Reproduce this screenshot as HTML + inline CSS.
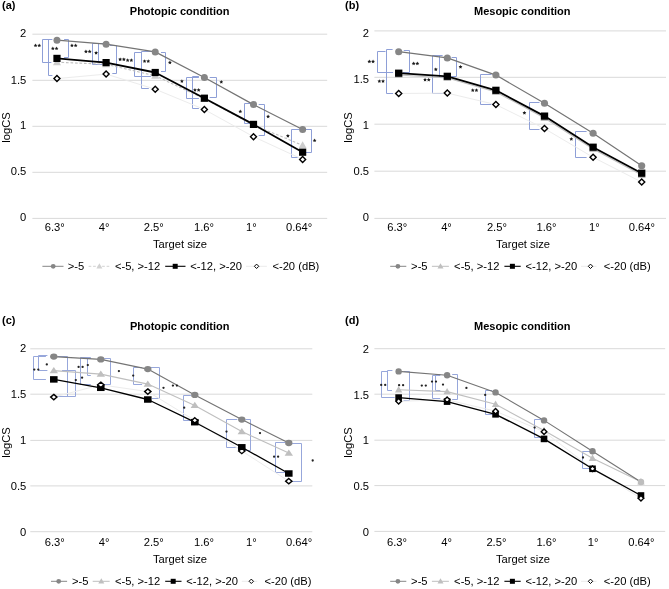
<!DOCTYPE html>
<html><head><meta charset="utf-8"><style>
html,body{margin:0;padding:0;background:#fff;}
svg{display:block;will-change:transform;}
text{font-family:"Liberation Sans",sans-serif;}
</style></head><body>
<svg width="669" height="589" viewBox="0 0 669 589">
<rect width="669" height="589" fill="#fff"/>
<line x1="32.4" y1="218.4" x2="327.2" y2="218.4" stroke="#D9D9D9" stroke-width="1"/>
<line x1="32.4" y1="172.3" x2="327.2" y2="172.3" stroke="#D9D9D9" stroke-width="1"/>
<line x1="32.4" y1="126.3" x2="327.2" y2="126.3" stroke="#D9D9D9" stroke-width="1"/>
<line x1="32.4" y1="80.3" x2="327.2" y2="80.3" stroke="#D9D9D9" stroke-width="1"/>
<line x1="32.4" y1="34.2" x2="327.2" y2="34.2" stroke="#D9D9D9" stroke-width="1"/>
<text x="26.3" y="221" text-anchor="end" font-size="11.2" fill="#000" >0</text>
<text x="26.3" y="175.1" text-anchor="end" font-size="11.2" fill="#000" >0.5</text>
<text x="26.3" y="129.3" text-anchor="end" font-size="11.2" fill="#000" >1</text>
<text x="26.3" y="83.5" text-anchor="end" font-size="11.2" fill="#000" >1.5</text>
<text x="26.3" y="37" text-anchor="end" font-size="11.2" fill="#000" >2</text>
<text x="129.8" y="14.8" text-anchor="start" font-size="11" font-weight="bold" fill="#000" >Photopic condition</text>
<text x="2" y="8.7" text-anchor="start" font-size="11" font-weight="bold" fill="#000" >(a)</text>
<text x="0" y="0" font-size="11.2" text-anchor="middle" transform="translate(9.6,127.5) rotate(-90)">logCS</text>
<text x="54.7" y="231.2" text-anchor="middle" font-size="11.2" fill="#000" >6.3°</text>
<text x="104.2" y="231.2" text-anchor="middle" font-size="11.2" fill="#000" >4°</text>
<text x="153.8" y="231.2" text-anchor="middle" font-size="11.2" fill="#000" >2.5°</text>
<text x="204" y="231.2" text-anchor="middle" font-size="11.2" fill="#000" >1.6°</text>
<text x="251.3" y="231.2" text-anchor="middle" font-size="11.2" fill="#000" >1°</text>
<text x="299.1" y="231.2" text-anchor="middle" font-size="11.2" fill="#000" >0.64°</text>
<text x="153.0" y="247.6" text-anchor="start" font-size="11.2" fill="#000" >Target size</text>
<line x1="374.4" y1="218.4" x2="666" y2="218.4" stroke="#D9D9D9" stroke-width="1"/>
<line x1="374.4" y1="171.2" x2="666" y2="171.2" stroke="#D9D9D9" stroke-width="1"/>
<line x1="374.4" y1="124.2" x2="666" y2="124.2" stroke="#D9D9D9" stroke-width="1"/>
<line x1="374.4" y1="77.3" x2="666" y2="77.3" stroke="#D9D9D9" stroke-width="1"/>
<line x1="374.4" y1="30.9" x2="666" y2="30.9" stroke="#D9D9D9" stroke-width="1"/>
<text x="369.1" y="221" text-anchor="end" font-size="11.2" fill="#000" >0</text>
<text x="369.1" y="175.1" text-anchor="end" font-size="11.2" fill="#000" >0.5</text>
<text x="369.1" y="129.3" text-anchor="end" font-size="11.2" fill="#000" >1</text>
<text x="369.1" y="83.3" text-anchor="end" font-size="11.2" fill="#000" >1.5</text>
<text x="369.1" y="37" text-anchor="end" font-size="11.2" fill="#000" >2</text>
<text x="474" y="14.8" text-anchor="start" font-size="11" font-weight="bold" fill="#000" >Mesopic condition</text>
<text x="345" y="8.7" text-anchor="start" font-size="11" font-weight="bold" fill="#000" >(b)</text>
<text x="0" y="0" font-size="11.2" text-anchor="middle" transform="translate(352.0,127.5) rotate(-90)">logCS</text>
<text x="397.2" y="231.0" text-anchor="middle" font-size="11.2" fill="#000" >6.3°</text>
<text x="446.5" y="231.0" text-anchor="middle" font-size="11.2" fill="#000" >4°</text>
<text x="496.9" y="231.0" text-anchor="middle" font-size="11.2" fill="#000" >2.5°</text>
<text x="546.5" y="231.0" text-anchor="middle" font-size="11.2" fill="#000" >1.6°</text>
<text x="594.4" y="231.0" text-anchor="middle" font-size="11.2" fill="#000" >1°</text>
<text x="641.8" y="231.0" text-anchor="middle" font-size="11.2" fill="#000" >0.64°</text>
<text x="495.9" y="247.5" text-anchor="start" font-size="11.2" fill="#000" >Target size</text>
<line x1="30.3" y1="531.7" x2="312.3" y2="531.7" stroke="#D9D9D9" stroke-width="1"/>
<line x1="30.3" y1="485.9" x2="312.3" y2="485.9" stroke="#D9D9D9" stroke-width="1"/>
<line x1="30.3" y1="440.4" x2="312.3" y2="440.4" stroke="#D9D9D9" stroke-width="1"/>
<line x1="30.3" y1="394.2" x2="312.3" y2="394.2" stroke="#D9D9D9" stroke-width="1"/>
<line x1="30.3" y1="348.8" x2="312.3" y2="348.8" stroke="#D9D9D9" stroke-width="1"/>
<text x="26.3" y="536" text-anchor="end" font-size="11.2" fill="#000" >0</text>
<text x="26.3" y="490" text-anchor="end" font-size="11.2" fill="#000" >0.5</text>
<text x="26.3" y="444" text-anchor="end" font-size="11.2" fill="#000" >1</text>
<text x="26.3" y="398" text-anchor="end" font-size="11.2" fill="#000" >1.5</text>
<text x="26.3" y="352" text-anchor="end" font-size="11.2" fill="#000" >2</text>
<text x="129.9" y="330" text-anchor="start" font-size="11" font-weight="bold" fill="#000" >Photopic condition</text>
<text x="2" y="324" text-anchor="start" font-size="11" font-weight="bold" fill="#000" >(c)</text>
<text x="0" y="0" font-size="11.2" text-anchor="middle" transform="translate(9.6,442.5) rotate(-90)">logCS</text>
<text x="54.7" y="546.2" text-anchor="middle" font-size="11.2" fill="#000" >6.3°</text>
<text x="104.2" y="546.2" text-anchor="middle" font-size="11.2" fill="#000" >4°</text>
<text x="153.8" y="546.2" text-anchor="middle" font-size="11.2" fill="#000" >2.5°</text>
<text x="204" y="546.2" text-anchor="middle" font-size="11.2" fill="#000" >1.6°</text>
<text x="251.3" y="546.2" text-anchor="middle" font-size="11.2" fill="#000" >1°</text>
<text x="299.1" y="546.2" text-anchor="middle" font-size="11.2" fill="#000" >0.64°</text>
<text x="153.0" y="562.8" text-anchor="start" font-size="11.2" fill="#000" >Target size</text>
<line x1="374.4" y1="531.4" x2="665.2" y2="531.4" stroke="#D9D9D9" stroke-width="1"/>
<line x1="374.4" y1="485.6" x2="665.2" y2="485.6" stroke="#D9D9D9" stroke-width="1"/>
<line x1="374.4" y1="440.2" x2="665.2" y2="440.2" stroke="#D9D9D9" stroke-width="1"/>
<line x1="374.4" y1="394.2" x2="665.2" y2="394.2" stroke="#D9D9D9" stroke-width="1"/>
<line x1="374.4" y1="348.7" x2="665.2" y2="348.7" stroke="#D9D9D9" stroke-width="1"/>
<text x="369.1" y="535.6" text-anchor="end" font-size="11.2" fill="#000" >0</text>
<text x="369.1" y="489.8" text-anchor="end" font-size="11.2" fill="#000" >0.5</text>
<text x="369.1" y="444.2" text-anchor="end" font-size="11.2" fill="#000" >1</text>
<text x="369.1" y="398.5" text-anchor="end" font-size="11.2" fill="#000" >1.5</text>
<text x="369.1" y="352.5" text-anchor="end" font-size="11.2" fill="#000" >2</text>
<text x="474" y="330" text-anchor="start" font-size="11" font-weight="bold" fill="#000" >Mesopic condition</text>
<text x="345" y="324" text-anchor="start" font-size="11" font-weight="bold" fill="#000" >(d)</text>
<text x="0" y="0" font-size="11.2" text-anchor="middle" transform="translate(352.0,442.5) rotate(-90)">logCS</text>
<text x="397.0" y="546.3" text-anchor="middle" font-size="11.2" fill="#000" >6.3°</text>
<text x="446.7" y="546.3" text-anchor="middle" font-size="11.2" fill="#000" >4°</text>
<text x="496.4" y="546.3" text-anchor="middle" font-size="11.2" fill="#000" >2.5°</text>
<text x="546.4" y="546.3" text-anchor="middle" font-size="11.2" fill="#000" >1.6°</text>
<text x="593.2" y="546.3" text-anchor="middle" font-size="11.2" fill="#000" >1°</text>
<text x="641.4" y="546.3" text-anchor="middle" font-size="11.2" fill="#000" >0.64°</text>
<text x="495.9" y="562.7" text-anchor="start" font-size="11.2" fill="#000" >Target size</text>
<line x1="42.4" y1="266.3" x2="63.5" y2="266.3" stroke="#868686" stroke-width="1"/>
<ellipse cx="53.2" cy="266.3" rx="2.40" ry="2.40" fill="#868686"/>
<text x="67.8" y="270.3" text-anchor="start" font-size="11.2" fill="#000" >&gt;-5</text>
<line x1="88.6" y1="266.3" x2="110.1" y2="266.3" stroke="#D2D2D2" stroke-width="1" stroke-dasharray="2.7,1.8"/>
<path d="M99.4 263.30L102.40 268.55L96.40 268.55Z" fill="#D2D2D2"/>
<text x="114.9" y="270.3" text-anchor="start" font-size="11.2" fill="#000" >&lt;-5, &gt;-12</text>
<line x1="165.2" y1="266.3" x2="185.5" y2="266.3" stroke="#000" stroke-width="1.1"/>
<rect x="172.70" y="263.80" width="5.00" height="5.00" fill="#000"/>
<text x="190.3" y="270.3" text-anchor="start" font-size="11.2" fill="#000" >&lt;-12, &gt;-20</text>
<line x1="246" y1="266.3" x2="266.9" y2="266.3" stroke="#ECECEC" stroke-width="1"/>
<path d="M256.6 264.10L258.80 266.3L256.6 268.50L254.40 266.3Z" fill="#fff" stroke="#000" stroke-width="1"/>
<text x="272.4" y="270.3" text-anchor="start" font-size="11.2" fill="#000" >&lt;-20 (dB)</text>
<line x1="390.2" y1="266.3" x2="406.29999999999995" y2="266.3" stroke="#868686" stroke-width="1"/>
<ellipse cx="397.9" cy="266.3" rx="2.40" ry="2.40" fill="#868686"/>
<text x="411.1" y="270.3" text-anchor="start" font-size="11.2" fill="#000" >&gt;-5</text>
<line x1="431.9" y1="266.3" x2="448.9" y2="266.3" stroke="#BFBFBF" stroke-width="1"/>
<path d="M440.5 263.30L443.50 268.55L437.50 268.55Z" fill="#BFBFBF"/>
<text x="454.1" y="270.3" text-anchor="start" font-size="11.2" fill="#000" >&lt;-5, &gt;-12</text>
<line x1="504.4" y1="266.3" x2="520.7" y2="266.3" stroke="#000" stroke-width="1.1"/>
<rect x="509.90" y="263.80" width="5.00" height="5.00" fill="#000"/>
<text x="525.5" y="270.3" text-anchor="start" font-size="11.2" fill="#000" >&lt;-12, &gt;-20</text>
<line x1="581.0" y1="266.3" x2="596.5" y2="266.3" stroke="#ECECEC" stroke-width="1"/>
<path d="M590.5 264.10L592.70 266.3L590.5 268.50L588.30 266.3Z" fill="#fff" stroke="#000" stroke-width="1"/>
<text x="603.7" y="270.3" text-anchor="start" font-size="11.2" fill="#000" >&lt;-20 (dB)</text>
<line x1="51" y1="581.3" x2="67.1" y2="581.3" stroke="#868686" stroke-width="1"/>
<ellipse cx="58.7" cy="581.3" rx="2.40" ry="2.40" fill="#868686"/>
<text x="71.9" y="585.3" text-anchor="start" font-size="11.2" fill="#000" >&gt;-5</text>
<line x1="92.7" y1="581.3" x2="109.7" y2="581.3" stroke="#BFBFBF" stroke-width="1"/>
<path d="M101.3 578.30L104.30 583.55L98.30 583.55Z" fill="#BFBFBF"/>
<text x="114.9" y="585.3" text-anchor="start" font-size="11.2" fill="#000" >&lt;-5, &gt;-12</text>
<line x1="165.2" y1="581.3" x2="181.5" y2="581.3" stroke="#000" stroke-width="1.1"/>
<rect x="170.70" y="578.80" width="5.00" height="5.00" fill="#000"/>
<text x="186.3" y="585.3" text-anchor="start" font-size="11.2" fill="#000" >&lt;-12, &gt;-20</text>
<line x1="241.8" y1="581.3" x2="257.3" y2="581.3" stroke="#ECECEC" stroke-width="1"/>
<path d="M251.3 579.10L253.50 581.3L251.3 583.50L249.10 581.3Z" fill="#fff" stroke="#000" stroke-width="1"/>
<text x="264.5" y="585.3" text-anchor="start" font-size="11.2" fill="#000" >&lt;-20 (dB)</text>
<line x1="390.2" y1="581.3" x2="406.29999999999995" y2="581.3" stroke="#868686" stroke-width="1"/>
<ellipse cx="397.9" cy="581.3" rx="2.40" ry="2.40" fill="#868686"/>
<text x="411.1" y="585.3" text-anchor="start" font-size="11.2" fill="#000" >&gt;-5</text>
<line x1="431.9" y1="581.3" x2="448.9" y2="581.3" stroke="#BFBFBF" stroke-width="1"/>
<path d="M440.5 578.30L443.50 583.55L437.50 583.55Z" fill="#BFBFBF"/>
<text x="454.1" y="585.3" text-anchor="start" font-size="11.2" fill="#000" >&lt;-5, &gt;-12</text>
<line x1="504.4" y1="581.3" x2="520.7" y2="581.3" stroke="#000" stroke-width="1.1"/>
<rect x="509.90" y="578.80" width="5.00" height="5.00" fill="#000"/>
<text x="525.5" y="585.3" text-anchor="start" font-size="11.2" fill="#000" >&lt;-12, &gt;-20</text>
<line x1="581.0" y1="581.3" x2="596.5" y2="581.3" stroke="#ECECEC" stroke-width="1"/>
<path d="M590.5 579.10L592.70 581.3L590.5 583.50L588.30 581.3Z" fill="#fff" stroke="#000" stroke-width="1"/>
<text x="603.7" y="585.3" text-anchor="start" font-size="11.2" fill="#000" >&lt;-20 (dB)</text>
<path d="M51.4 39.5H42.5V62.5H51.4" fill="none" stroke="#8E9FD7" stroke-width="1"/>
<path d="M52.4 39.5H48.5V75.5H52.4" fill="none" stroke="#8E9FD7" stroke-width="1"/>
<path d="M64.1 39.5H68.5V57.5H64.1" fill="none" stroke="#8E9FD7" stroke-width="1"/>
<path d="M103.3 43.5H92.5V64.5H102.4" fill="none" stroke="#8E9FD7" stroke-width="1"/>
<path d="M102 43.5H98.5V61.5H102.4" fill="none" stroke="#8E9FD7" stroke-width="1"/>
<path d="M110 45.5H116.5V73.5H112.3" fill="none" stroke="#8E9FD7" stroke-width="1"/>
<path d="M141.2 52.5H134.5V76.5H150.9" fill="none" stroke="#8E9FD7" stroke-width="1"/>
<path d="M151.9 51.5H141.5V88.5H148.8" fill="none" stroke="#8E9FD7" stroke-width="1"/>
<path d="M161 52.5H165.5V71.5H161" fill="none" stroke="#8E9FD7" stroke-width="1"/>
<path d="M198.9 77.5H186.5V98.5H198.9" fill="none" stroke="#8E9FD7" stroke-width="1"/>
<path d="M198.9 76.5H192.5V108.5H198.9" fill="none" stroke="#8E9FD7" stroke-width="1"/>
<path d="M209.7 77.5H216.5V97.5H209.7" fill="none" stroke="#8E9FD7" stroke-width="1"/>
<path d="M251 103.5H244.5V123.5H251" fill="none" stroke="#8E9FD7" stroke-width="1"/>
<path d="M258.7 104.5H264.5V135.5H258.7" fill="none" stroke="#8E9FD7" stroke-width="1"/>
<path d="M299.1 129.5H291.5V157.5H299.1" fill="none" stroke="#8E9FD7" stroke-width="1"/>
<path d="M306 129.5H311.5V152.5H306" fill="none" stroke="#8E9FD7" stroke-width="1"/>
<path d="M385.5 51.5H377.5V72.5H393.1" fill="none" stroke="#8E9FD7" stroke-width="1"/>
<path d="M392.6 49.5H386.5V93.5H393.1" fill="none" stroke="#8E9FD7" stroke-width="1"/>
<path d="M403.8 50.5H409.5V72.5H403" fill="none" stroke="#8E9FD7" stroke-width="1"/>
<path d="M442.4 55.5H432.5V93.5H442.9" fill="none" stroke="#8E9FD7" stroke-width="1"/>
<path d="M442.4 55.5H439.5V77.5H443.4" fill="none" stroke="#8E9FD7" stroke-width="1"/>
<path d="M451.6 57.5H456.5V76.5H451.6" fill="none" stroke="#8E9FD7" stroke-width="1"/>
<path d="M491.4 74.5H480.5V104.5H491.4" fill="none" stroke="#8E9FD7" stroke-width="1"/>
<path d="M539.5 102.5H529.5V129.5H539.5" fill="none" stroke="#8E9FD7" stroke-width="1"/>
<path d="M586.6 131.5H575.5V157.5H586.6" fill="none" stroke="#8E9FD7" stroke-width="1"/>
<path d="M45.9 356.5H33.5V379.5H45.9" fill="none" stroke="#97A7DB" stroke-width="1"/>
<path d="M47.4 355.5H38.5V370.5H47.4" fill="none" stroke="#97A7DB" stroke-width="1"/>
<path d="M57.9 356.5H67.5V396.5H57.9" fill="none" stroke="#97A7DB" stroke-width="1"/>
<path d="M62 370.5H75.5V396.5H57.9" fill="none" stroke="#97A7DB" stroke-width="1"/>
<path d="M90.8 357.5H80.5V384.5H90.8" fill="none" stroke="#97A7DB" stroke-width="1"/>
<path d="M90.8 358.5H87.5V375.5H90.8" fill="none" stroke="#97A7DB" stroke-width="1"/>
<path d="M104.2 358.5H110.5V384.5H104.2" fill="none" stroke="#97A7DB" stroke-width="1"/>
<path d="M142.1 367.5H133.5V384.5H142.1" fill="none" stroke="#97A7DB" stroke-width="1"/>
<path d="M150.4 367.5H159.5V398.5H151.9" fill="none" stroke="#97A7DB" stroke-width="1"/>
<path d="M190.9 395.5H183.5V420.5H190.9" fill="none" stroke="#97A7DB" stroke-width="1"/>
<path d="M237.3 419.5H226.5V447.5H237.3" fill="none" stroke="#97A7DB" stroke-width="1"/>
<path d="M245.5 419.5H250.5V450.5H245.5" fill="none" stroke="#97A7DB" stroke-width="1"/>
<path d="M285.4 442.5H275.5V472.5H285.4" fill="none" stroke="#97A7DB" stroke-width="1"/>
<path d="M292.1 443.5H301.5V481.5H292.1" fill="none" stroke="#97A7DB" stroke-width="1"/>
<path d="M388 371.5H381.5V397.5H394.7" fill="none" stroke="#97A7DB" stroke-width="1"/>
<path d="M392.4 370.5H387.5V390.5H392" fill="none" stroke="#97A7DB" stroke-width="1"/>
<path d="M403.6 371.5H409.5V400.5H403.6" fill="none" stroke="#97A7DB" stroke-width="1"/>
<path d="M440.3 375.5H432.5V398.5H440.3" fill="none" stroke="#97A7DB" stroke-width="1"/>
<path d="M440.3 374.5H435.5V390.5H440.3" fill="none" stroke="#97A7DB" stroke-width="1"/>
<path d="M452.2 374.5H457.5V399.5H452.2" fill="none" stroke="#97A7DB" stroke-width="1"/>
<path d="M492.1 390.5H485.5V414.5H492.1" fill="none" stroke="#97A7DB" stroke-width="1"/>
<path d="M541 419.5H534.5V437.5H541" fill="none" stroke="#97A7DB" stroke-width="1"/>
<path d="M591.9 451.5H582.5V468.5H591.9" fill="none" stroke="#97A7DB" stroke-width="1"/>
<polyline points="56.96666666666667,78.6 106.1,74.1 155.23333333333332,89.2 204.36666666666667,109.5 253.5,136.7 302.6333333333333,159.4" fill="none" stroke="#ECECEC" stroke-width="1" stroke-linejoin="round"/>
<polyline points="56.96666666666667,62.2 106.1,64.3 155.23333333333332,75.8 204.36666666666667,98.8 253.5,125 302.6333333333333,145.3" fill="none" stroke="#BFBFBF" stroke-width="1.1" stroke-dasharray="2.7,1.8" stroke-linejoin="round"/>
<polyline points="56.96666666666667,58.4 106.1,62.6 155.23333333333332,72.5 204.36666666666667,98.2 253.5,124.4 302.6333333333333,152.2" fill="none" stroke="#000" stroke-width="1.8" stroke-linejoin="round"/>
<polyline points="56.96666666666667,40.2 106.1,44.2 155.23333333333332,51.9 204.36666666666667,77.5 253.5,104.6 302.6333333333333,129.5" fill="none" stroke="#747474" stroke-width="1.25" stroke-linejoin="round"/>
<path d="M56.96666666666667 58.20L60.97 65.20L52.97 65.20Z" fill="#CDCDCD"/>
<path d="M106.1 60.30L110.10 67.30L102.10 67.30Z" fill="#CDCDCD"/>
<path d="M155.23333333333332 71.80L159.23 78.80L151.23 78.80Z" fill="#CDCDCD"/>
<path d="M204.36666666666667 94.80L208.37 101.80L200.37 101.80Z" fill="#CDCDCD"/>
<path d="M253.5 121.00L257.50 128.00L249.50 128.00Z" fill="#CDCDCD"/>
<path d="M302.6333333333333 141.30L306.63 148.30L298.63 148.30Z" fill="#CDCDCD"/>
<rect x="53.37" y="54.80" width="7.20" height="7.20" fill="#000"/>
<rect x="102.50" y="59.00" width="7.20" height="7.20" fill="#000"/>
<rect x="151.63" y="68.90" width="7.20" height="7.20" fill="#000"/>
<rect x="200.77" y="94.60" width="7.20" height="7.20" fill="#000"/>
<rect x="249.90" y="120.80" width="7.20" height="7.20" fill="#000"/>
<rect x="299.03" y="148.60" width="7.20" height="7.20" fill="#000"/>
<path d="M56.96666666666667 75.60L59.97 78.6L56.96666666666667 81.60L53.97 78.6Z" fill="#fff" stroke="#000" stroke-width="1.4"/>
<path d="M106.1 71.10L109.10 74.1L106.1 77.10L103.10 74.1Z" fill="#fff" stroke="#000" stroke-width="1.4"/>
<path d="M155.23333333333332 86.20L158.23 89.2L155.23333333333332 92.20L152.23 89.2Z" fill="#fff" stroke="#000" stroke-width="1.4"/>
<path d="M204.36666666666667 106.50L207.37 109.5L204.36666666666667 112.50L201.37 109.5Z" fill="#fff" stroke="#000" stroke-width="1.4"/>
<path d="M253.5 133.70L256.50 136.7L253.5 139.70L250.50 136.7Z" fill="#fff" stroke="#000" stroke-width="1.4"/>
<path d="M302.6333333333333 156.40L305.63 159.4L302.6333333333333 162.40L299.63 159.4Z" fill="#fff" stroke="#000" stroke-width="1.4"/>
<ellipse cx="56.96666666666667" cy="40.2" rx="3.50" ry="3.50" fill="#868686"/>
<ellipse cx="106.1" cy="44.2" rx="3.50" ry="3.50" fill="#868686"/>
<ellipse cx="155.23333333333332" cy="51.9" rx="3.50" ry="3.50" fill="#868686"/>
<ellipse cx="204.36666666666667" cy="77.5" rx="3.50" ry="3.50" fill="#868686"/>
<ellipse cx="253.5" cy="104.6" rx="3.50" ry="3.50" fill="#868686"/>
<ellipse cx="302.6333333333333" cy="129.5" rx="3.50" ry="3.50" fill="#868686"/>
<polyline points="398.7,93.5 447.29999999999995,93.1 495.9,104.6 544.5,128.6 593.1,157.3 641.7,182.1" fill="none" stroke="#ECECEC" stroke-width="1" stroke-linejoin="round"/>
<polyline points="398.7,75 447.29999999999995,78 495.9,92 544.5,118 593.1,149 641.7,175" fill="none" stroke="#BFBFBF" stroke-width="1.1" stroke-linejoin="round"/>
<polyline points="398.7,73.2 447.29999999999995,76.3 495.9,90.3 544.5,116.1 593.1,147.2 641.7,173.2" fill="none" stroke="#000" stroke-width="1.8" stroke-linejoin="round"/>
<polyline points="398.7,51.7 447.29999999999995,57.9 495.9,75.1 544.5,103.3 593.1,133.2 641.7,165.8" fill="none" stroke="#747474" stroke-width="1.2" stroke-linejoin="round"/>
<path d="M398.7 71.00L402.78 78.00L394.62 78.00Z" fill="#BFBFBF"/>
<path d="M447.29999999999995 74.00L451.38 81.00L443.22 81.00Z" fill="#BFBFBF"/>
<path d="M495.9 88.00L499.98 95.00L491.82 95.00Z" fill="#BFBFBF"/>
<path d="M544.5 114.00L548.58 121.00L540.42 121.00Z" fill="#BFBFBF"/>
<path d="M593.1 145.00L597.18 152.00L589.02 152.00Z" fill="#BFBFBF"/>
<path d="M641.7 171.00L645.78 178.00L637.62 178.00Z" fill="#BFBFBF"/>
<rect x="395.03" y="69.60" width="7.34" height="7.20" fill="#000"/>
<rect x="443.63" y="72.70" width="7.34" height="7.20" fill="#000"/>
<rect x="492.23" y="86.70" width="7.34" height="7.20" fill="#000"/>
<rect x="540.83" y="112.50" width="7.34" height="7.20" fill="#000"/>
<rect x="589.43" y="143.60" width="7.34" height="7.20" fill="#000"/>
<rect x="638.03" y="169.60" width="7.34" height="7.20" fill="#000"/>
<path d="M398.7 90.50L401.76 93.5L398.7 96.50L395.64 93.5Z" fill="#fff" stroke="#000" stroke-width="1.4"/>
<path d="M447.29999999999995 90.10L450.36 93.1L447.29999999999995 96.10L444.24 93.1Z" fill="#fff" stroke="#000" stroke-width="1.4"/>
<path d="M495.9 101.60L498.96 104.6L495.9 107.60L492.84 104.6Z" fill="#fff" stroke="#000" stroke-width="1.4"/>
<path d="M544.5 125.60L547.56 128.6L544.5 131.60L541.44 128.6Z" fill="#fff" stroke="#000" stroke-width="1.4"/>
<path d="M593.1 154.30L596.16 157.3L593.1 160.30L590.04 157.3Z" fill="#fff" stroke="#000" stroke-width="1.4"/>
<path d="M641.7 179.10L644.76 182.1L641.7 185.10L638.64 182.1Z" fill="#fff" stroke="#000" stroke-width="1.4"/>
<ellipse cx="398.7" cy="51.7" rx="3.57" ry="3.50" fill="#868686"/>
<ellipse cx="447.29999999999995" cy="57.9" rx="3.57" ry="3.50" fill="#868686"/>
<ellipse cx="495.9" cy="75.1" rx="3.57" ry="3.50" fill="#868686"/>
<ellipse cx="544.5" cy="103.3" rx="3.57" ry="3.50" fill="#868686"/>
<ellipse cx="593.1" cy="133.2" rx="3.57" ry="3.50" fill="#868686"/>
<ellipse cx="641.7" cy="165.8" rx="3.57" ry="3.50" fill="#868686"/>
<polyline points="53.8,397.1 100.8,384.8 147.8,391.6 194.8,420.4 241.8,451 288.8,481.2" fill="none" stroke="#ECECEC" stroke-width="1" stroke-linejoin="round"/>
<polyline points="53.8,370.6 100.8,374.1 147.8,384.1 194.8,405.4 241.8,431.6 288.8,453.1" fill="none" stroke="#BFBFBF" stroke-width="1.1" stroke-linejoin="round"/>
<polyline points="53.8,379.4 100.8,387.8 147.8,399.5 194.8,422.2 241.8,447.3 288.8,473.5" fill="none" stroke="#000" stroke-width="1.3" stroke-linejoin="round"/>
<polyline points="53.8,356.6 100.8,359.4 147.8,369.1 194.8,394.9 241.8,419.6 288.8,443" fill="none" stroke="#747474" stroke-width="1.1" stroke-linejoin="round"/>
<path d="M53.8 367.00L58.00 373.30L49.60 373.30Z" fill="#BFBFBF"/>
<path d="M100.8 370.50L105.00 376.80L96.60 376.80Z" fill="#BFBFBF"/>
<path d="M147.8 380.50L152.00 386.80L143.60 386.80Z" fill="#BFBFBF"/>
<path d="M194.8 401.80L199.00 408.10L190.60 408.10Z" fill="#BFBFBF"/>
<path d="M241.8 428.00L246.00 434.30L237.60 434.30Z" fill="#BFBFBF"/>
<path d="M288.8 449.50L293.00 455.80L284.60 455.80Z" fill="#BFBFBF"/>
<rect x="50.02" y="376.16" width="7.56" height="6.48" fill="#000"/>
<rect x="97.02" y="384.56" width="7.56" height="6.48" fill="#000"/>
<rect x="144.02" y="396.26" width="7.56" height="6.48" fill="#000"/>
<rect x="191.02" y="418.96" width="7.56" height="6.48" fill="#000"/>
<rect x="238.02" y="444.06" width="7.56" height="6.48" fill="#000"/>
<rect x="285.02" y="470.26" width="7.56" height="6.48" fill="#000"/>
<path d="M53.8 394.40L56.95 397.1L53.8 399.80L50.65 397.1Z" fill="#fff" stroke="#000" stroke-width="1.4"/>
<path d="M100.8 382.10L103.95 384.8L100.8 387.50L97.65 384.8Z" fill="#fff" stroke="#000" stroke-width="1.4"/>
<path d="M147.8 388.90L150.95 391.6L147.8 394.30L144.65 391.6Z" fill="#fff" stroke="#000" stroke-width="1.4"/>
<path d="M194.8 417.70L197.95 420.4L194.8 423.10L191.65 420.4Z" fill="#fff" stroke="#000" stroke-width="1.4"/>
<path d="M241.8 448.30L244.95 451L241.8 453.70L238.65 451Z" fill="#fff" stroke="#000" stroke-width="1.4"/>
<path d="M288.8 478.50L291.95 481.2L288.8 483.90L285.65 481.2Z" fill="#fff" stroke="#000" stroke-width="1.4"/>
<ellipse cx="53.8" cy="356.6" rx="3.68" ry="3.15" fill="#868686"/>
<ellipse cx="100.8" cy="359.4" rx="3.68" ry="3.15" fill="#868686"/>
<ellipse cx="147.8" cy="369.1" rx="3.68" ry="3.15" fill="#868686"/>
<ellipse cx="194.8" cy="394.9" rx="3.68" ry="3.15" fill="#868686"/>
<ellipse cx="241.8" cy="419.6" rx="3.68" ry="3.15" fill="#868686"/>
<ellipse cx="288.8" cy="443" rx="3.68" ry="3.15" fill="#868686"/>
<polyline points="398.6333333333333,401.3 447.1,399.8 495.56666666666666,411.2 544.0333333333333,431.7 592.5,468.8 640.9666666666667,498.3" fill="none" stroke="#ECECEC" stroke-width="1" stroke-linejoin="round"/>
<polyline points="398.6333333333333,389.7 447.1,391.6 495.56666666666666,404.3 544.0333333333333,430.5 592.5,458.2 640.9666666666667,481.8" fill="none" stroke="#BFBFBF" stroke-width="1.1" stroke-linejoin="round"/>
<polyline points="398.6333333333333,397.6 447.1,401.6 495.56666666666666,414.3 544.0333333333333,438.9 592.5,468.8 640.9666666666667,495.5" fill="none" stroke="#000" stroke-width="1.35" stroke-linejoin="round"/>
<polyline points="398.6333333333333,371.4 447.1,375.2 495.56666666666666,392.4 544.0333333333333,420.4 592.5,451.3 640.9666666666667,482" fill="none" stroke="#747474" stroke-width="1.1" stroke-linejoin="round"/>
<path d="M398.6333333333333 386.02L402.31 392.46L394.95 392.46Z" fill="#BFBFBF"/>
<path d="M447.1 387.92L450.78 394.36L443.42 394.36Z" fill="#BFBFBF"/>
<path d="M495.56666666666666 400.62L499.25 407.06L491.89 407.06Z" fill="#BFBFBF"/>
<path d="M544.0333333333333 426.82L547.71 433.26L540.35 433.26Z" fill="#BFBFBF"/>
<path d="M592.5 454.52L596.18 460.96L588.82 460.96Z" fill="#BFBFBF"/>
<path d="M640.9666666666667 478.12L644.65 484.56L637.29 484.56Z" fill="#BFBFBF"/>
<rect x="395.32" y="394.29" width="6.62" height="6.62" fill="#000"/>
<rect x="443.79" y="398.29" width="6.62" height="6.62" fill="#000"/>
<rect x="492.25" y="410.99" width="6.62" height="6.62" fill="#000"/>
<rect x="540.72" y="435.59" width="6.62" height="6.62" fill="#000"/>
<rect x="589.19" y="465.49" width="6.62" height="6.62" fill="#000"/>
<rect x="637.65" y="492.19" width="6.62" height="6.62" fill="#000"/>
<path d="M398.6333333333333 398.54L401.39 401.3L398.6333333333333 404.06L395.87 401.3Z" fill="#fff" stroke="#000" stroke-width="1.4"/>
<path d="M447.1 397.04L449.86 399.8L447.1 402.56L444.34 399.8Z" fill="#fff" stroke="#000" stroke-width="1.4"/>
<path d="M495.56666666666666 408.44L498.33 411.2L495.56666666666666 413.96L492.81 411.2Z" fill="#fff" stroke="#000" stroke-width="1.4"/>
<path d="M544.0333333333333 428.94L546.79 431.7L544.0333333333333 434.46L541.27 431.7Z" fill="#fff" stroke="#000" stroke-width="1.4"/>
<path d="M592.5 466.04L595.26 468.8L592.5 471.56L589.74 468.8Z" fill="#fff" stroke="#000" stroke-width="1.4"/>
<path d="M640.9666666666667 495.54L643.73 498.3L640.9666666666667 501.06L638.21 498.3Z" fill="#fff" stroke="#000" stroke-width="1.4"/>
<ellipse cx="398.6333333333333" cy="371.4" rx="3.22" ry="3.22" fill="#868686"/>
<ellipse cx="447.1" cy="375.2" rx="3.22" ry="3.22" fill="#868686"/>
<ellipse cx="495.56666666666666" cy="392.4" rx="3.22" ry="3.22" fill="#868686"/>
<ellipse cx="544.0333333333333" cy="420.4" rx="3.22" ry="3.22" fill="#868686"/>
<ellipse cx="592.5" cy="451.3" rx="3.22" ry="3.22" fill="#868686"/>
<ellipse cx="640.9666666666667" cy="482" rx="3.22" ry="3.22" fill="#BDBDBD"/>
<polygon points="35.55,43.50 34.96,44.69 33.65,44.88 34.60,45.81 34.37,47.12 35.55,46.50 36.73,47.12 36.50,45.81 37.45,44.88 36.14,44.69" fill="#1a1a1a"/>
<polygon points="39.25,43.50 38.66,44.69 37.35,44.88 38.30,45.81 38.07,47.12 39.25,46.50 40.43,47.12 40.20,45.81 41.15,44.88 39.84,44.69" fill="#1a1a1a"/>
<polygon points="52.85,46.50 52.26,47.69 50.95,47.88 51.90,48.81 51.67,50.12 52.85,49.50 54.03,50.12 53.80,48.81 54.75,47.88 53.44,47.69" fill="#1a1a1a"/>
<polygon points="56.55,46.50 55.96,47.69 54.65,47.88 55.60,48.81 55.37,50.12 56.55,49.50 57.73,50.12 57.50,48.81 58.45,47.88 57.14,47.69" fill="#1a1a1a"/>
<polygon points="71.95,43.50 71.36,44.69 70.05,44.88 71.00,45.81 70.77,47.12 71.95,46.50 73.13,47.12 72.90,45.81 73.85,44.88 72.54,44.69" fill="#1a1a1a"/>
<polygon points="75.65,43.50 75.06,44.69 73.75,44.88 74.70,45.81 74.47,47.12 75.65,46.50 76.83,47.12 76.60,45.81 77.55,44.88 76.24,44.69" fill="#1a1a1a"/>
<polygon points="85.95,49.60 85.36,50.79 84.05,50.98 85.00,51.91 84.77,53.22 85.95,52.60 87.13,53.22 86.90,51.91 87.85,50.98 86.54,50.79" fill="#1a1a1a"/>
<polygon points="89.65,49.60 89.06,50.79 87.75,50.98 88.70,51.91 88.47,53.22 89.65,52.60 90.83,53.22 90.60,51.91 91.55,50.98 90.24,50.79" fill="#1a1a1a"/>
<polygon points="96.10,50.90 95.51,52.09 94.20,52.28 95.15,53.21 94.92,54.52 96.10,53.90 97.28,54.52 97.05,53.21 98.00,52.28 96.69,52.09" fill="#1a1a1a"/>
<polygon points="120.15,57.40 119.56,58.59 118.25,58.78 119.20,59.71 118.97,61.02 120.15,60.40 121.33,61.02 121.10,59.71 122.05,58.78 120.74,58.59" fill="#1a1a1a"/>
<polygon points="123.85,57.40 123.26,58.59 121.95,58.78 122.90,59.71 122.67,61.02 123.85,60.40 125.03,61.02 124.80,59.71 125.75,58.78 124.44,58.59" fill="#1a1a1a"/>
<polygon points="127.65,58.30 127.06,59.49 125.75,59.68 126.70,60.61 126.47,61.92 127.65,61.30 128.83,61.92 128.60,60.61 129.55,59.68 128.24,59.49" fill="#1a1a1a"/>
<polygon points="131.35,58.30 130.76,59.49 129.45,59.68 130.40,60.61 130.17,61.92 131.35,61.30 132.53,61.92 132.30,60.61 133.25,59.68 131.94,59.49" fill="#1a1a1a"/>
<polygon points="144.55,59.20 143.96,60.39 142.65,60.58 143.60,61.51 143.37,62.82 144.55,62.20 145.73,62.82 145.50,61.51 146.45,60.58 145.14,60.39" fill="#1a1a1a"/>
<polygon points="148.25,59.20 147.66,60.39 146.35,60.58 147.30,61.51 147.07,62.82 148.25,62.20 149.43,62.82 149.20,61.51 150.15,60.58 148.84,60.39" fill="#1a1a1a"/>
<polygon points="169.90,60.60 169.31,61.79 168.00,61.98 168.95,62.91 168.72,64.22 169.90,63.60 171.08,64.22 170.85,62.91 171.80,61.98 170.49,61.79" fill="#1a1a1a"/>
<polygon points="181.90,79.20 181.31,80.39 180.00,80.58 180.95,81.51 180.72,82.82 181.90,82.20 183.08,82.82 182.85,81.51 183.80,80.58 182.49,80.39" fill="#1a1a1a"/>
<polygon points="194.95,88.10 194.36,89.29 193.05,89.48 194.00,90.41 193.77,91.72 194.95,91.10 196.13,91.72 195.90,90.41 196.85,89.48 195.54,89.29" fill="#1a1a1a"/>
<polygon points="198.65,88.10 198.06,89.29 196.75,89.48 197.70,90.41 197.47,91.72 198.65,91.10 199.83,91.72 199.60,90.41 200.55,89.48 199.24,89.29" fill="#1a1a1a"/>
<polygon points="221.30,80.00 220.71,81.19 219.40,81.38 220.35,82.31 220.12,83.62 221.30,83.00 222.48,83.62 222.25,82.31 223.20,81.38 221.89,81.19" fill="#1a1a1a"/>
<polygon points="240.30,109.50 239.71,110.69 238.40,110.88 239.35,111.81 239.12,113.12 240.30,112.50 241.48,113.12 241.25,111.81 242.20,110.88 240.89,110.69" fill="#1a1a1a"/>
<polygon points="268.10,114.60 267.51,115.79 266.20,115.98 267.15,116.91 266.92,118.22 268.10,117.60 269.28,118.22 269.05,116.91 270.00,115.98 268.69,115.79" fill="#1a1a1a"/>
<polygon points="287.90,133.90 287.31,135.09 286.00,135.28 286.95,136.21 286.72,137.52 287.90,136.90 289.08,137.52 288.85,136.21 289.80,135.28 288.49,135.09" fill="#1a1a1a"/>
<polygon points="314.60,138.50 314.01,139.69 312.70,139.88 313.65,140.81 313.42,142.12 314.60,141.50 315.78,142.12 315.55,140.81 316.50,139.88 315.19,139.69" fill="#1a1a1a"/>
<polygon points="369.35,59.60 368.76,60.79 367.45,60.98 368.40,61.91 368.17,63.22 369.35,62.60 370.53,63.22 370.30,61.91 371.25,60.98 369.94,60.79" fill="#1a1a1a"/>
<polygon points="373.05,59.60 372.46,60.79 371.15,60.98 372.10,61.91 371.87,63.22 373.05,62.60 374.23,63.22 374.00,61.91 374.95,60.98 373.64,60.79" fill="#1a1a1a"/>
<polygon points="379.35,79.20 378.76,80.39 377.45,80.58 378.40,81.51 378.17,82.82 379.35,82.20 380.53,82.82 380.30,81.51 381.25,80.58 379.94,80.39" fill="#1a1a1a"/>
<polygon points="383.05,79.20 382.46,80.39 381.15,80.58 382.10,81.51 381.87,82.82 383.05,82.20 384.23,82.82 384.00,81.51 384.95,80.58 383.64,80.39" fill="#1a1a1a"/>
<polygon points="413.65,61.60 413.06,62.79 411.75,62.98 412.70,63.91 412.47,65.22 413.65,64.60 414.83,65.22 414.60,63.91 415.55,62.98 414.24,62.79" fill="#1a1a1a"/>
<polygon points="417.35,61.60 416.76,62.79 415.45,62.98 416.40,63.91 416.17,65.22 417.35,64.60 418.53,65.22 418.30,63.91 419.25,62.98 417.94,62.79" fill="#1a1a1a"/>
<polygon points="435.80,67.40 435.21,68.59 433.90,68.78 434.85,69.71 434.62,71.02 435.80,70.40 436.98,71.02 436.75,69.71 437.70,68.78 436.39,68.59" fill="#1a1a1a"/>
<polygon points="460.50,64.90 459.91,66.09 458.60,66.28 459.55,67.21 459.32,68.52 460.50,67.90 461.68,68.52 461.45,67.21 462.40,66.28 461.09,66.09" fill="#1a1a1a"/>
<polygon points="425.05,77.80 424.46,78.99 423.15,79.18 424.10,80.11 423.87,81.42 425.05,80.80 426.23,81.42 426.00,80.11 426.95,79.18 425.64,78.99" fill="#1a1a1a"/>
<polygon points="428.75,77.80 428.16,78.99 426.85,79.18 427.80,80.11 427.57,81.42 428.75,80.80 429.93,81.42 429.70,80.11 430.65,79.18 429.34,78.99" fill="#1a1a1a"/>
<polygon points="472.75,88.30 472.16,89.49 470.85,89.68 471.80,90.61 471.57,91.92 472.75,91.30 473.93,91.92 473.70,90.61 474.65,89.68 473.34,89.49" fill="#1a1a1a"/>
<polygon points="476.45,88.30 475.86,89.49 474.55,89.68 475.50,90.61 475.27,91.92 476.45,91.30 477.63,91.92 477.40,90.61 478.35,89.68 477.04,89.49" fill="#1a1a1a"/>
<polygon points="524.40,110.90 523.81,112.09 522.50,112.28 523.45,113.21 523.22,114.52 524.40,113.90 525.58,114.52 525.35,113.21 526.30,112.28 524.99,112.09" fill="#1a1a1a"/>
<polygon points="571.30,137.10 570.71,138.29 569.40,138.48 570.35,139.41 570.12,140.72 571.30,140.10 572.48,140.72 572.25,139.41 573.20,138.48 571.89,138.29" fill="#1a1a1a"/>
<circle cx="46.8" cy="364.4" r="1.15" fill="#222"/>
<circle cx="34.3" cy="369.6" r="1.15" fill="#222"/>
<circle cx="38.3" cy="369.6" r="1.15" fill="#222"/>
<circle cx="75.8" cy="380.1" r="1.15" fill="#222"/>
<circle cx="78.6" cy="366.9" r="1.15" fill="#222"/>
<circle cx="82.6" cy="366.9" r="1.15" fill="#222"/>
<circle cx="87.8" cy="365.1" r="1.15" fill="#222"/>
<circle cx="82.1" cy="377.7" r="1.15" fill="#222"/>
<circle cx="118.9" cy="371.1" r="1.15" fill="#222"/>
<circle cx="133.2" cy="375.6" r="1.15" fill="#222"/>
<circle cx="163.5" cy="387.8" r="1.15" fill="#222"/>
<circle cx="172.9" cy="385.6" r="1.15" fill="#222"/>
<circle cx="176.9" cy="385.6" r="1.15" fill="#222"/>
<circle cx="184.2" cy="407.7" r="1.15" fill="#222"/>
<circle cx="226.5" cy="431.6" r="1.15" fill="#222"/>
<circle cx="260" cy="433.1" r="1.15" fill="#222"/>
<circle cx="274.1" cy="456.7" r="1.15" fill="#222"/>
<circle cx="278.1" cy="456.7" r="1.15" fill="#222"/>
<circle cx="312.7" cy="460.5" r="1.15" fill="#222"/>
<circle cx="381.2" cy="384.9" r="1.15" fill="#222"/>
<circle cx="385.2" cy="384.9" r="1.15" fill="#222"/>
<circle cx="399.1" cy="385.2" r="1.15" fill="#222"/>
<circle cx="403.1" cy="385.2" r="1.15" fill="#222"/>
<circle cx="421.8" cy="385.6" r="1.15" fill="#222"/>
<circle cx="425.8" cy="385.6" r="1.15" fill="#222"/>
<circle cx="432" cy="381.6" r="1.15" fill="#222"/>
<circle cx="436" cy="381.6" r="1.15" fill="#222"/>
<circle cx="443" cy="384.6" r="1.15" fill="#222"/>
<circle cx="466.4" cy="387.9" r="1.15" fill="#222"/>
<circle cx="485.2" cy="394.9" r="1.15" fill="#222"/>
<circle cx="534.6" cy="427.6" r="1.15" fill="#222"/>
<circle cx="583" cy="457.5" r="1.15" fill="#222"/>
</svg>
</body></html>
